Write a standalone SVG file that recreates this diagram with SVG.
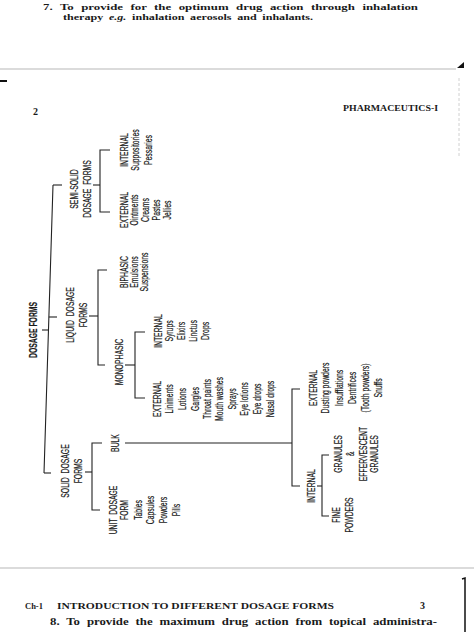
<svg xmlns="http://www.w3.org/2000/svg" width="474" height="632" viewBox="0 0 474 632">
<style>
.pg{font-family:"Liberation Serif","Times New Roman",serif;font-weight:bold;fill:#1a1a1a}
.t{font-family:"Liberation Sans",Arial,sans-serif;font-size:10.5px;fill:#1a1a1a;stroke:#1a1a1a;stroke-width:0.2;text-anchor:middle}
.b{font-weight:bold}
.c{fill:none;stroke:#222;stroke-width:1.1}
.rule{stroke:#cfcfcf;stroke-width:1.5}
</style>
<rect width="474" height="632" fill="#ffffff"/>
<g id="page">
<text class="pg" x="43" y="10" font-size="9" textLength="375" lengthAdjust="spacingAndGlyphs" word-spacing="3">7. To provide for the optimum drug action through inhalation</text>
<text class="pg" x="63" y="20.2" font-size="9" textLength="250" lengthAdjust="spacingAndGlyphs" word-spacing="2">therapy <tspan font-style="italic">e.g.</tspan> inhalation aerosols and inhalants.</text>
<line class="rule" x1="0" y1="69" x2="456" y2="69"/>
<polygon points="457,68 464,62 464,68" fill="#111"/>
<line x1="0" y1="81" x2="7" y2="81" stroke="#111" stroke-width="2"/>
<line x1="459" y1="78" x2="459" y2="157" stroke="#d0d0d0" stroke-width="1" stroke-dasharray="3,2"/>
<text class="pg" x="33" y="115" font-size="10">2</text>
<text class="pg" x="343" y="111" font-size="8" textLength="95" lengthAdjust="spacingAndGlyphs">PHARMACEUTICS-I</text>
<line class="rule" x1="0" y1="568" x2="474" y2="568"/>
<text class="pg" x="25" y="609" font-size="8.5">Ch-1</text>
<text class="pg" x="57" y="609" font-size="8.5" textLength="277" lengthAdjust="spacingAndGlyphs">INTRODUCTION TO DIFFERENT DOSAGE FORMS</text>
<text class="pg" x="420" y="609" font-size="10">3</text>
<text class="pg" x="50" y="625" font-size="10.5" textLength="387" lengthAdjust="spacingAndGlyphs" word-spacing="3">8. To provide the maximum drug action from topical administra-</text>
<path d="M462,579 L465,578 V632" fill="none" stroke="#111" stroke-width="1.5"/>
</g>
<g id="connectors">
<path class="c" d="M53,185 L44,473"/>
<path class="c" d="M42,330 H48.5"/>
<path class="c" d="M53,185 H62"/>
<path class="c" d="M48.9,317 H57"/>
<path class="c" d="M44,473 H51"/>
<path class="c" d="M93,185 H100"/>
<path class="c" d="M110,150 H100 V212 H110"/>
<path class="c" d="M89,316 H98"/>
<path class="c" d="M107,270 H98 V365 H105"/>
<path class="c" d="M125,365 H135"/>
<path class="c" d="M145,332 H135 V398 H145"/>
<path class="c" d="M85,472 H92"/>
<path class="c" d="M102,443 H92 V510 H100"/>
<path class="c" d="M125,443 H292"/>
<path class="c" d="M300,389 H292 V486 H300"/>
<path class="c" d="M317,486 H322"/>
<path class="c" d="M329,455 H322 V516 H329"/>
</g>
<g id="n-root" transform="translate(0,330) rotate(-90) scale(0.65,1)"><text class="t b" y="37">DOSAGE FORMS</text></g>
<g id="n-semisolid" transform="translate(0,189) rotate(-90) scale(0.65,1)"><text class="t" y="78">SEMI-SOLID</text><text class="t" y="91" xml:space="preserve">DOSAGE  FORMS</text></g>
<g id="n-ss-internal" transform="translate(0,150) rotate(-90) scale(0.65,1)"><text class="t" y="128">INTERNAL</text><text class="t" y="139.5">Suppositories</text><text class="t" y="152">Pessaries</text></g>
<g id="n-ss-external" transform="translate(0,210) rotate(-90) scale(0.65,1)"><text class="t" y="128">EXTERNAL</text><text class="t" y="138.5">Ointments</text><text class="t" y="149">Creams</text><text class="t" y="160">Pastes</text><text class="t" y="171">Jellies</text></g>
<g id="n-liquid" transform="translate(0,315) rotate(-90) scale(0.65,1)"><text class="t" y="74" xml:space="preserve">LIQUID  DOSAGE</text><text class="t" y="87">FORMS</text></g>
<g id="n-biphasic" transform="translate(0,272) rotate(-90) scale(0.65,1)"><text class="t" y="128">BIPHASIC</text><text class="t" y="138">Emulsions</text><text class="t" y="148">Suspensions</text></g>
<g id="n-monophasic" transform="translate(0,362) rotate(-90) scale(0.65,1)"><text class="t" y="123">MONOPHASIC</text></g>
<g id="n-lq-internal" transform="translate(0,331) rotate(-90) scale(0.65,1)"><text class="t" y="162">INTERNAL</text><text class="t" y="173">Syrups</text><text class="t" y="185">Elixirs</text><text class="t" y="197">Linctus</text><text class="t" y="209">Drops</text></g>
<g id="n-lq-external" transform="translate(0,399) rotate(-90) scale(0.65,1)"><text class="t" y="161">EXTERNAL</text><text class="t" y="173.5">Liniments</text><text class="t" y="186">Lotions</text><text class="t" y="198.5">Gargles</text><text class="t" y="211">Throat paints</text><text class="t" y="223.5">Mouth washes</text><text class="t" y="236">Sprays</text><text class="t" y="248.5">Eye lotions</text><text class="t" y="261">Eye drops</text><text class="t" y="274">Nasal drops</text></g>
<g id="n-solid" transform="translate(0,471) rotate(-90) scale(0.65,1)"><text class="t" y="69" xml:space="preserve">SOLID  DOSAGE</text><text class="t" y="82">FORMS</text></g>
<g id="n-bulk" transform="translate(0,443) rotate(-90) scale(0.65,1)"><text class="t" y="119">BULK</text></g>
<g id="n-unit" transform="translate(0,510) rotate(-90) scale(0.65,1)"><text class="t" y="117" xml:space="preserve">UNIT  DOSAGE</text><text class="t" y="128">FORM</text><text class="t" y="142">Tables</text><text class="t" y="154">Capsules</text><text class="t" y="167">Powders</text><text class="t" y="180">Pills</text></g>
<g id="n-bk-external" transform="translate(0,388) rotate(-90) scale(0.65,1)"><text class="t" y="317">EXTERNAL</text><text class="t" y="329">Dusting powders</text><text class="t" y="343">Insufflations</text><text class="t" y="356">Dentrifices</text><text class="t" y="369">(Tooth powders)</text><text class="t" y="382">Snuffs</text></g>
<g id="n-bk-internal" transform="translate(0,486) rotate(-90) scale(0.65,1)"><text class="t" y="315">INTERNAL</text></g>
<g id="n-granules" transform="translate(0,454) rotate(-90) scale(0.65,1)"><text class="t" y="342">GRANULES</text><text class="t" y="354">&amp;</text><text class="t" y="367">EFFERVESCENT</text><text class="t" y="378">GRANULES</text></g>
<g id="n-fine" transform="translate(0,515) rotate(-90) scale(0.65,1)"><text class="t" y="340">FINE</text><text class="t" y="353">POWDERS</text></g>
</svg>
